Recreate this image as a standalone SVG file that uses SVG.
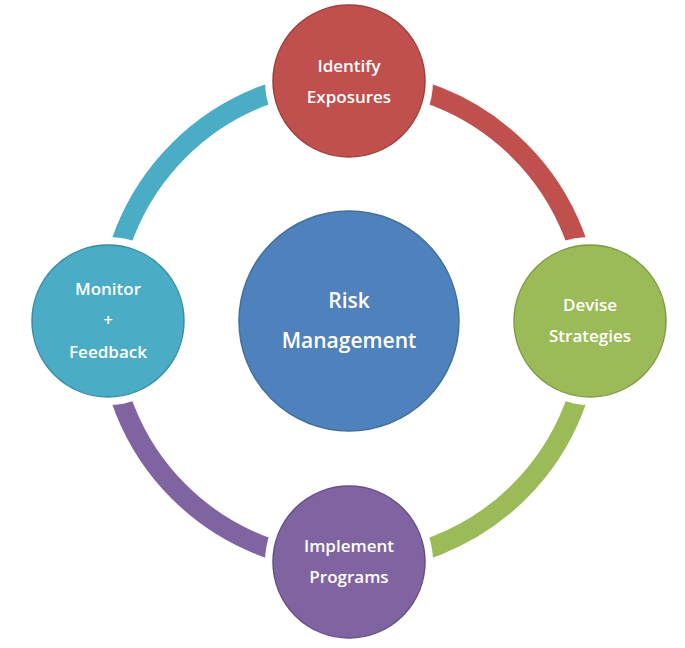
<svg xmlns="http://www.w3.org/2000/svg" width="685" height="648" viewBox="0 0 685 648">
<style>
.arc{fill:none;stroke-width:20}
.gap{fill:#fff}
.t{font-family:"Open Sans","Liberation Sans",sans-serif;font-size:17px;fill:#fff;text-anchor:middle;font-weight:600}
</style>
<rect width="685" height="648" fill="#fff"/>
<g id="connectors">
<path class="arc" stroke="#C0504D" d="M349 80 A241 241 0 0 1 590 321"/>
<path class="arc" stroke="#9BBB59" d="M590 321 A241 241 0 0 1 349 562"/>
<path class="arc" stroke="#8064A2" d="M349 562 A241 241 0 0 1 108 321"/>
<path class="arc" stroke="#4BACC6" d="M108 321 A241 241 0 0 1 349 80"/>
</g>
<g id="center">
<circle cx="349" cy="321" r="110" fill="#4F81BD" stroke="#41719C" stroke-width="1.5"/>
<text class="t" x="349" y="308" font-size="21" style="font-size:21px">Risk</text>
<text class="t" x="349" y="348" style="font-size:21px">Management</text>
</g>
<g id="identify">
<circle class="gap" cx="349" cy="81" r="84"/>
<circle cx="349" cy="81" r="76" fill="#C0504D" stroke="#A03E3B" stroke-width="1.5"/>
<text class="t" x="349" y="72">Identify</text>
<text class="t" x="349" y="103">Exposures</text>
</g>
<g id="devise">
<circle class="gap" cx="590" cy="321" r="84"/>
<circle cx="590" cy="321" r="76" fill="#9BBB59" stroke="#7F9C44" stroke-width="1.5"/>
<text class="t" x="590" y="311">Devise</text>
<text class="t" x="590" y="342">Strategies</text>
</g>
<g id="implement">
<circle class="gap" cx="349" cy="562" r="84"/>
<circle cx="349" cy="562" r="76" fill="#8064A2" stroke="#664F84" stroke-width="1.5"/>
<text class="t" x="349" y="552">Implement</text>
<text class="t" x="349" y="583">Programs</text>
</g>
<g id="monitor">
<circle class="gap" cx="108" cy="321" r="84"/>
<circle cx="108" cy="321" r="76" fill="#4BACC6" stroke="#3A8DA4" stroke-width="1.5"/>
<text class="t" x="108" y="295">Monitor</text>
<text class="t" x="108" y="326">+</text>
<text class="t" x="108" y="358">Feedback</text>
</g>
</svg>
